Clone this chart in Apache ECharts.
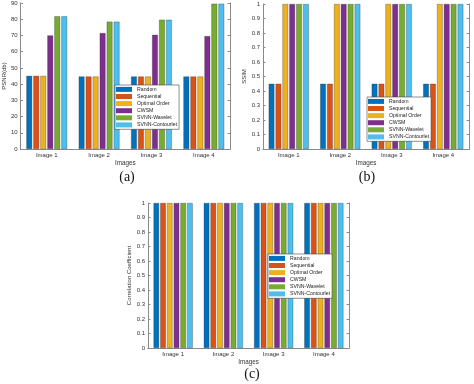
<!DOCTYPE html>
<html>
<head>
<meta charset="utf-8">
<script src="https://cdn.jsdelivr.net/npm/echarts@6/dist/echarts.min.js"></script>
<style>html,body{margin:0;padding:0;background:#fff}#c{width:474px;height:384px}</style>
</head>
<body>
<div id="c"></div>
<script>
const categories = ['Image 1', 'Image 2', 'Image 3', 'Image 4'];
const seriesNames = ['Random', 'Sequential', 'Optimal Order', 'CWSM', 'SVNN-Wavelet', 'SVNN-Contourlet'];
const colors = ['#0072BD', '#D95319', '#EDB120', '#7E2F8E', '#77AC30', '#4DBEEE'];

// (a) PSNR(db)
const psnrRandom = [45.1, 44.7, 44.7, 44.7];
const psnrSequential = [45.1, 44.7, 44.7, 44.7];
const psnrOptimal = [45.1, 44.7, 44.7, 44.7];
const psnrCWSM = [70.0, 71.5, 70.4, 69.6];
const psnrWavelet = [81.8, 78.5, 79.7, 89.6];
const psnrContourlet = [81.8, 78.5, 79.7, 89.6];

// (b) SSIM
const ssimRandom = [0.45, 0.45, 0.45, 0.45];
const ssimSequential = [0.45, 0.45, 0.45, 0.45];
const ssimOptimal = [1, 1, 1, 1];
const ssimCWSM = [1, 1, 1, 1];
const ssimWavelet = [1, 1, 1, 1];
const ssimContourlet = [1, 1, 1, 1];

// (c) Correlation Coefficient
const ccRandom = [1, 1, 1, 1];
const ccSequential = [1, 1, 1, 1];
const ccOptimal = [1, 1, 1, 1];
const ccCWSM = [1, 1, 1, 1];
const ccWavelet = [1, 1, 1, 1];
const ccContourlet = [1, 1, 1, 1];

const panelData = [
  [psnrRandom, psnrSequential, psnrOptimal, psnrCWSM, psnrWavelet, psnrContourlet],
  [ssimRandom, ssimSequential, ssimOptimal, ssimCWSM, ssimWavelet, ssimContourlet],
  [ccRandom, ccSequential, ccOptimal, ccCWSM, ccWavelet, ccContourlet]
];
const yNames = ['PSNR(db)', 'SSIM', 'Correlation Coefficient'];
const yMax = [90, 1, 1];
const yInterval = [10, 0.1, 0.1];
const panelLabels = ['(a)', '(b)', '(c)'];

const grids = [
  {left: 19.5, top: 3, width: 210.5, height: 146},
  {left: 263, top: 4, width: 206, height: 145},
  {left: 148, top: 203, width: 201, height: 145}
];
const legendPos = [
  {left: 115, top: 85},
  {left: 367, top: 97},
  {left: 268, top: 254}
];
const titlePos = [
  {left: 127, top: 170},
  {left: 367, top: 170},
  {left: 252, top: 367}
];

const axisColor = '#8a8a8a';
const labelColor = '#333';
const fontFamily = 'Liberation Sans, Arial, sans-serif';

const xAxes = [], yAxes = [], series = [], legends = [], titles = [];
grids.forEach((g, i) => {
  xAxes.push({
    type: 'category', gridIndex: i, data: categories, position: 'bottom',
    axisLine: {lineStyle: {color: axisColor, width: 1}},
    axisTick: {inside: true, length: 2.5, alignWithLabel: true, lineStyle: {color: axisColor}},
    axisLabel: {color: labelColor, fontSize: 6, fontFamily, margin: 3},
    name: 'Images', nameLocation: 'middle', nameGap: 11,
    nameTextStyle: {color: labelColor, fontSize: 6.3, fontFamily},
    splitLine: {show: false}
  });
  xAxes.push({
    type: 'category', gridIndex: i, data: categories, position: 'top',
    axisLine: {lineStyle: {color: axisColor, width: 1}},
    axisTick: {inside: true, length: 2.5, alignWithLabel: true, lineStyle: {color: axisColor}},
    axisLabel: {show: false}, splitLine: {show: false}
  });
  yAxes.push({
    type: 'value', gridIndex: i, min: 0, max: yMax[i], interval: yInterval[i], position: 'left',
    axisLine: {show: true, lineStyle: {color: axisColor, width: 1}},
    axisTick: {show: true, inside: true, length: 2.5, lineStyle: {color: axisColor}},
    axisLabel: {color: labelColor, fontSize: 6, fontFamily, margin: 3,
      formatter: v => String(Math.round(v * 100) / 100)},
    splitLine: {show: false},
    name: yNames[i], nameLocation: 'middle', nameGap: 13,
    nameTextStyle: {color: labelColor, fontSize: 6, fontFamily}
  });
  yAxes.push({
    type: 'value', gridIndex: i, min: 0, max: yMax[i], interval: yInterval[i], position: 'right',
    axisLine: {show: true, lineStyle: {color: axisColor, width: 1}},
    axisTick: {show: true, inside: true, length: 2.5, lineStyle: {color: axisColor}},
    axisLabel: {show: false}, splitLine: {show: false}
  });
  panelData[i].forEach((vals, s) => {
    series.push({
      type: 'bar', name: seriesNames[s], xAxisIndex: i * 2, yAxisIndex: i * 2,
      data: vals, barCategoryGap: '22%', barGap: '20%',
      itemStyle: {color: colors[s], borderColor: 'rgba(40,40,40,0.6)', borderWidth: 0.5},
      emphasis: {disabled: true}, animation: false
    });
  });
  legends.push({
    orient: 'vertical', left: legendPos[i].left, top: legendPos[i].top,
    data: seriesNames.map((n, s) => ({name: n, itemStyle: {color: colors[s], borderWidth: 0}})),
    icon: 'rect', itemWidth: 16, itemHeight: 5, itemGap: 1.3, itemTextGap: 2,
    padding: [1.5, 2, 1.5, 1],
    backgroundColor: '#fff', borderColor: '#444', borderWidth: 0.6,
    textStyle: {fontSize: 5.2, fontFamily, color: '#222', lineHeight: 5.8},
    selectedMode: false
  });
  titles.push({
    text: panelLabels[i], left: titlePos[i].left, top: titlePos[i].top, textAlign: 'center',
    textStyle: {fontFamily: 'Liberation Serif, Times New Roman, serif', fontSize: 14, fontWeight: 'normal', color: '#111'},
    padding: 0
  });
});

const chart = echarts.init(document.getElementById('c'));
chart.setOption({
  backgroundColor: '#fff',
  animation: false,
  title: titles,
  grid: grids,
  xAxis: xAxes,
  yAxis: yAxes,
  legend: legends,
  series: series
});
</script>
</body>
</html>
